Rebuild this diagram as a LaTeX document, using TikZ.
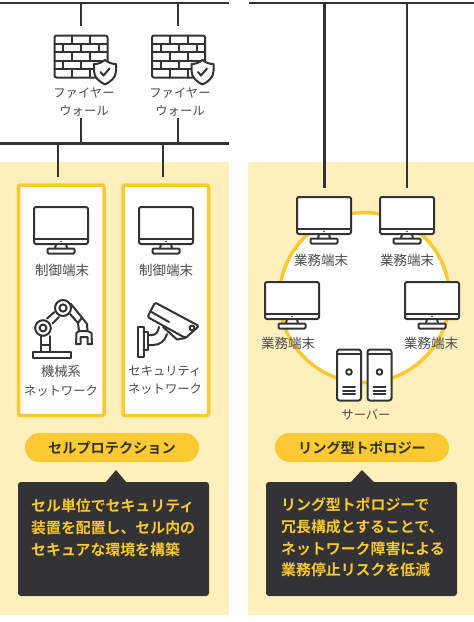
\documentclass[tikz,border=0pt]{standalone}
\usepackage{fontspec}
\newfontfamily\jp{Noto Sans CJK JP}[BoldFont={Noto Sans CJK JP Bold}]
\definecolor{panel}{HTML}{FDF0BC}
\definecolor{amber}{HTML}{FBC931}
\definecolor{ink}{HTML}{333335}
\definecolor{labelgray}{HTML}{4A4A4A}
\tikzset{
  wire/.style={draw=ink,line width=2.5pt},
  icon/.style={draw=ink,line width=2pt,line join=round,line cap=round},
  lbl/.style={text=labelgray,font=\jp\fontsize{13.5}{13.5}\selectfont,inner sep=0pt,align=center},
  lblk/.style={text=labelgray,font=\jp\fontsize{12.3}{18.5}\selectfont,inner sep=0pt,align=center},
  pilllabel/.style={fill=amber,rounded corners=14.5pt,minimum width=174pt,minimum height=29pt,inner sep=0pt,text=ink,font=\jp\bfseries\fontsize{14.2}{14.2}\selectfont},
  desc/.style={text=amber,font=\jp\bfseries\fontsize{14.9}{21.7}\selectfont,inner sep=0pt,align=left,anchor=west},
  darkbox/.style={fill=ink,rounded corners=3pt},
  monitor/.pic={
    \draw[icon,fill=white,rounded corners=2pt] (1,1) rectangle (55,38);
    \draw[icon] (1,33) -- (55,33);
    \fill[ink] (28,35.5) circle (0.9);
    \draw[icon] (23,38) -- (22,42.5) (33,38) -- (34,42.5);
    \draw[icon,fill=white,rounded corners=1pt] (14.5,42.5) rectangle (41.5,47.5);
  },
  firewall/.pic={
    \draw[icon,rounded corners=2pt] (0.5,0.5) rectangle (53.5,42.5);
    \draw[icon] (0.5,8.8) -- (53.5,8.8) (0.5,17.2) -- (53.5,17.2) (0.5,25.6) -- (53.5,25.6) (0.5,34) -- (53.5,34);
    \draw[icon] (18,0.5) -- (18,8.8) (36,0.5) -- (36,8.8)
                (9,8.8) -- (9,17.2) (27,8.8) -- (27,17.2) (45,8.8) -- (45,17.2)
                (18,17.2) -- (18,25.6) (36,17.2) -- (36,25.6)
                (9,25.6) -- (9,34) (27,25.6) -- (27,34)
                (18,34) -- (18,42.5) (36,34) -- (36,42.5);
    \draw[icon,fill=white] (51,25) .. controls (47,28) and (44,29) .. (40,29) -- (40,36)
        .. controls (40,43) and (46,47) .. (51,49.5)
        .. controls (56,47) and (62,43) .. (62,36) -- (62,29)
        .. controls (58,29) and (55,28) .. (51,25) -- cycle;
    \draw[icon] (46.5,37) -- (49.5,40.5) -- (55.5,33.5);
  },
  tower/.pic={
    \draw[icon,fill=white,rounded corners=2.5pt] (0.5,0.5) rectangle (24.5,51.5);
    \draw[icon] (0.5,5) -- (24.5,5);
    \draw[icon] (12.5,23) circle (2.8);
    \draw[icon] (6.5,38) -- (18.5,38) (6.5,41.5) -- (18.5,41.5) (6.5,45) -- (18.5,45);
  },
}
\begin{document}
\begin{tikzpicture}[x=1pt,y=-1pt]
\useasboundingbox (0,0) rectangle (474,622);
% panels
\fill[panel] (0,162) rectangle (229,615);
\fill[panel] (248,162) rectangle (474,615);
% anchor points
\coordinate (busTL) at (0,3);      \coordinate (busTR) at (229,3);
\coordinate (busML) at (0,143.5);  \coordinate (busMR) at (229,143.5);
\coordinate (t1) at (81,3);  \coordinate (f1top) at (81,26);
\coordinate (t2) at (178,3); \coordinate (f2top) at (178,26);
\coordinate (f1bot) at (81,118);  \coordinate (m1) at (81,143.5);
\coordinate (f2bot) at (178,118); \coordinate (m2) at (178,143.5);
\coordinate (d1) at (58,143.5);  \coordinate (c1) at (58,177);
\coordinate (d2) at (163,143.5); \coordinate (c2) at (163,177);
\coordinate (busRL) at (249,3); \coordinate (busRR) at (474,3);
\coordinate (r1) at (324.5,3); \coordinate (p1) at (324.5,188);
\coordinate (r2) at (407,3);   \coordinate (p2) at (407,188);
% left network
\draw[wire] (busTL) -- (busTR);
\draw[wire] (busML) -- (busMR);
\draw[wire] (t1) -- (f1top);
\draw[wire] (t2) -- (f2top);
\draw[wire] (f1bot) -- (m1);
\draw[wire] (f2bot) -- (m2);
\draw[wire] (d1) -- (c1);
\draw[wire] (d2) -- (c2);
\draw[wire] (busRL) -- (busRR);
\draw[wire] (r1) -- (p1);
\draw[wire] (r2) -- (p2);
% firewalls
\pic at (54,35) {firewall};
\pic at (151.5,35) {firewall};
\node[lblk] (fw1) at (84,102) {ファイヤー\\ウォール};
\node[lblk] (fw2) at (180,102) {ファイヤー\\ウォール};
% cell boxes
\draw[draw=amber,line width=3.5pt,fill=white,rounded corners=2pt] (18.5,185) rectangle (104,415.5);
\draw[draw=amber,line width=3.5pt,fill=white,rounded corners=2pt] (123,185) rectangle (208.5,415.5);
\pic at (33,206) {monitor};
\pic at (138,206) {monitor};
\node[lbl] (ctl1) at (62,270) {制御端末};
\node[lbl] (ctl2) at (166,270) {制御端末};
% robot arm
\draw[icon] (33,352) rectangle (71,358);
\draw[icon] (41,352) -- (41,336) (49.5,352) -- (49.5,336) (41,345) -- (49.5,345);
\draw[icon] (43,328) circle (7.8);
\draw[icon] (43,328) circle (3.4);
\draw[icon] (63,308) circle (8);
\draw[icon] (63,308) circle (3.6);
\draw[icon] (47,318.5) -- (54.5,312) (52.5,323.5) -- (59,317);
\draw[icon] (70.5,303.5) -- (82,317.5) (70,314) -- (78,323);
\draw[icon] (78,323) -- (82,317.5) -- (87,324) -- (87.5,331) -- (79,331) -- (78,323);
\draw[icon] (76,344) -- (76.5,333) -- (79,331) (87.5,331) -- (91.5,333) -- (92,344) -- (87.5,344) -- (87.5,337) -- (80.5,337) -- (80.5,344) -- (76,344);
\node[lblk] (mech) at (61,381) {{\fontsize{13.3}{18.5}\selectfont 機械系}\\ネットワーク};
% camera
\draw[icon,rounded corners=1.5pt] (155,302.5) -- (199,326) -- (185.5,338) -- (147.5,317) -- cycle;
\draw[icon] (151.5,312) -- (169,322);
\draw[icon] (192,328) circle (2.4);
\draw[icon] (163,327) -- (177,339.5) -- (185.5,338);
\draw[icon] (137.5,327) rectangle (143.5,356.5);
\draw[icon] (143.5,332) -- (148,332) -- (148,350) -- (143.5,350);
\draw[icon] (148,335) -- (152,335) .. controls (156,335) and (158,332) .. (159,327);
\draw[icon] (148,345) -- (153,345) .. controls (160,345) and (165,341) .. (167,334);
\node[lblk] (sec) at (165,380) {セキュリティ\\ネットワーク};
% left callout
\node[pilllabel] (pillL) at (112,447.5) {セルプロテクション};
\fill[ink] (116,470) -- (127,483) -- (105,483) -- cycle;
\fill[darkbox] (18,482) rectangle (209,596);
\node[desc] (txtL) at (31,528) {セル単位でセキュリティ\\装置を配置し、セル内の\\セキュアな環境を構築};
% ring
\draw[draw=amber,line width=3.5pt,fill=white] (364.5,297.5) circle (85);
\pic at (296,196) {monitor};
\pic at (379,196) {monitor};
\pic at (264,281) {monitor};
\pic at (404,281) {monitor};
\node[lbl] (b1) at (321,260) {業務端末};
\node[lbl] (b2) at (407,260) {業務端末};
\node[lbl] (b3) at (288,343) {業務端末};
\node[lbl] (b4) at (431,343) {業務端末};
\pic at (336.5,349) {tower};
\pic at (367,349) {tower};
\node[lblk] (srv) at (366,415) {サーバー};
% right callout
\node[pilllabel] (pillR) at (362,447.5) {リング型トポロジー};
\fill[ink] (362,470) -- (375,483) -- (350,483) -- cycle;
\fill[darkbox] (266,482) rectangle (457,596);
\node[desc] (txtR) at (281,537.5) {リング型トポロジーで\\冗長構成とすることで、\\ネットワーク障害による\\業務停止リスクを低減};
\end{tikzpicture}
\end{document}
